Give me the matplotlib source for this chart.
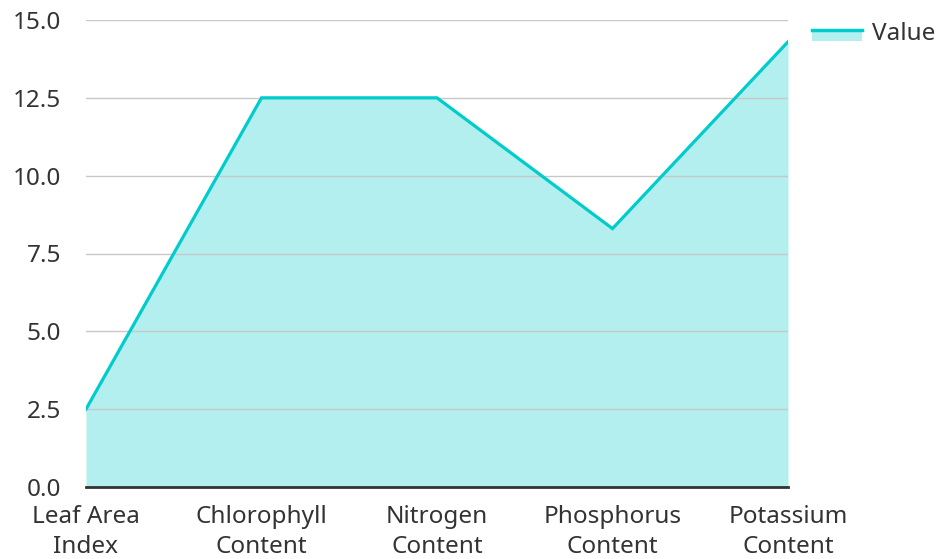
import matplotlib.pyplot as plt
from matplotlib.legend_handler import HandlerBase
from matplotlib.patches import Rectangle
from matplotlib.lines import Line2D
import numpy as np

categories = ['Leaf Area\nIndex', 'Chlorophyll\nContent', 'Nitrogen\nContent',
              'Phosphorus\nContent', 'Potassium\nContent']
values = [2.5, 12.5, 12.5, 8.3, 14.3]
yticks = [0.0, 2.5, 5.0, 7.5, 10.0, 12.5, 15.0]

LINE = '#00CCCC'
FILL = '#B2EFEE'

plt.rcParams['font.family'] = ['Noto Sans', 'DejaVu Sans']


class FillLineHandler(HandlerBase):
    def create_artists(self, legend, orig_handle, xdescent, ydescent,
                       width, height, fontsize, trans):
        mid = height * 0.6 - ydescent
        rect = Rectangle((-xdescent, mid - height * 0.7), width, height * 0.7,
                         facecolor=FILL, edgecolor='none', transform=trans)
        line = Line2D([-xdescent, -xdescent + width], [mid, mid],
                      color=LINE, lw=2.5, transform=trans)
        return [rect, line]


fig = plt.figure(figsize=(9.37, 5.59), dpi=100)
ax = fig.add_axes([86 / 937, 1 - 487 / 559, (788 - 86) / 937, (487 - 20) / 559])

x = np.arange(len(categories))
ax.fill_between(x, values, 0, color=FILL, lw=0, zorder=1)
line, = ax.plot(x, values, color=LINE, lw=2.3, zorder=3, label='Value',
                solid_joinstyle='miter')

ax.set_xlim(0, len(categories) - 1)
ax.set_ylim(0, 15)
ax.set_yticks(yticks)
ax.set_yticklabels([f'{v:.1f}' for v in yticks])
ax.set_xticks(x)
ax.set_xticklabels(categories)
ax.tick_params(axis='both', length=0, labelsize=17.5, labelcolor='#333333')
ax.tick_params(axis='x', pad=13)
ax.tick_params(axis='y', pad=18)
for lab in ax.get_xticklabels():
    lab.set_linespacing(1.35)

ax.set_axisbelow('line')
ax.yaxis.grid(True, color='#c8c8c8', lw=1)
ax.xaxis.grid(False)
for s in ['top', 'right', 'left']:
    ax.spines[s].set_visible(False)
ax.spines['bottom'].set_color('#333333')
ax.spines['bottom'].set_linewidth(2)
ax.spines['bottom'].set_zorder(4)
ax.spines['bottom'].set_clip_on(False)

ax.legend(handles=[line], handler_map={line: FillLineHandler()},
          loc='upper left', bbox_to_anchor=(802 / 937, 1 - 12 / 559),
          bbox_transform=fig.transFigure, frameon=False, fontsize=17.5,
          handlelength=2.05, handletextpad=0.42, borderaxespad=0,
          labelcolor='#333333')

fig.savefig('out.png', dpi=100)
